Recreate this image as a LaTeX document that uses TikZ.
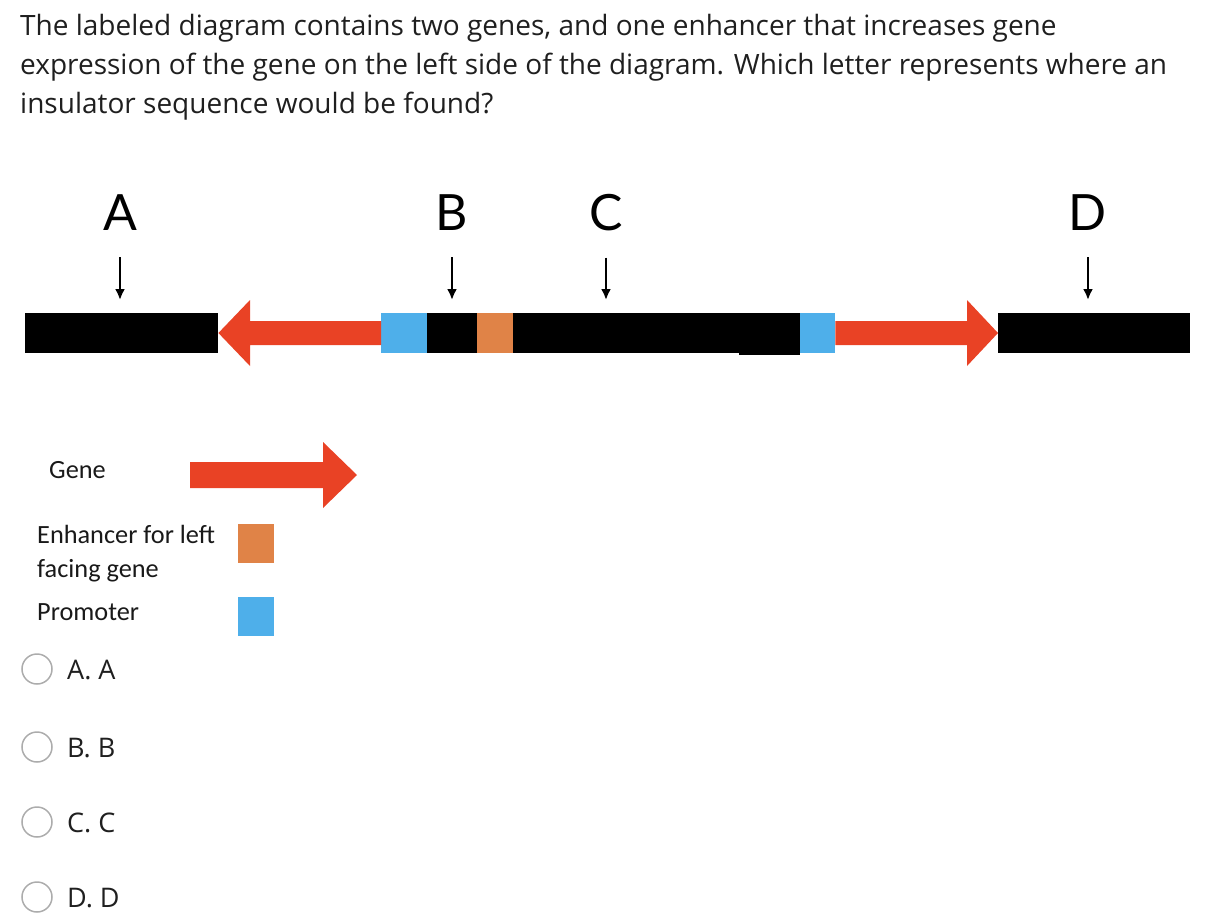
\documentclass[tikz,border=0pt]{standalone}
\usepackage{fontspec}
\setmainfont{Open Sans}
\newfontfamily\legendfont{Carlito}
\newfontfamily\letterfont{Lato}
\usetikzlibrary{arrows.meta, positioning}
\definecolor{genered}{RGB}{233,66,37}
\definecolor{enhorange}{RGB}{224,131,71}
\definecolor{promblue}{RGB}{78,175,234}

\begin{document}
\begin{tikzpicture}[x=1pt, y=-1pt,
    title/.style={anchor=base west, inner sep=0pt, text=black!88,
                  font=\fontsize{28}{39}\selectfont},
    letter/.style={anchor=base, inner sep=0pt,
                   font=\letterfont\fontsize{50}{50}\selectfont},
    pointer/.style={-{Latex[length=11pt,width=10pt]}, line width=2.2pt,
                    shorten <=27pt},
    seg/.style={rectangle, anchor=west, inner sep=0pt, minimum height=40pt},
    key/.style={anchor=base west, inner sep=0pt, text=black!90,
                font=\legendfont\fontsize{26.3}{30}\selectfont},
    swatch/.style={rectangle, inner sep=0pt, minimum width=36pt,
                   minimum height=39pt},
    radio/.style={circle, draw=gray!65, line width=1.5pt, minimum size=30pt,
                  inner sep=0pt},
    choice/.style={anchor=base west, inner sep=0pt, text=black!88,
                   font=\fontsize{27}{30}\selectfont},
]
\useasboundingbox (0,0) rectangle (1224,924);

% question
\node[title] (q1) at (20,35)  {The labeled diagram contains two genes, and one enhancer that increases gene};
\node[title] (q2) at (20,74)  {expression of the gene on the left side of the diagram. Which letter represents where an};
\node[title] (q3) at (20,113) {insulator sequence would be found?};

% DNA strand
\node[seg, fill=black, minimum width=193pt] (barA) at (25,333) {};
\node[seg, fill=promblue, minimum width=46pt] (promL) at (381,333) {};
\node[seg, fill=black, minimum width=50pt] (spacer) at (427,333) {};
\node[seg, fill=enhorange, minimum width=36pt] (enh) at (477,333) {};
\node[seg, fill=black, minimum width=287pt] (barC) at (513,333) {};
\fill[black] (739,313) rectangle (800,355);
\node[seg, fill=promblue, minimum width=35pt] (promR) at (800,333) {};
\node[seg, fill=black, minimum width=192pt] (barD) at (998,333) {};

% genes
\fill[genered] (barA.east) -- (250,300) -- (250,321) -- (promL.west |- 0,321)
   -- (promL.west |- 0,345) -- (250,345) -- (250,366) -- cycle;
\fill[genered] (barD.west) -- (967,300) -- (967,321) -- (promR.east |- 0,321)
   -- (promR.east |- 0,345) -- (967,345) -- (967,366) -- cycle;

% sites
\node[letter] (A) at (120,230) {A};
\node[letter] (B) at (452,230) {B};
\node[letter] (C) at (606,230) {C};
\node[letter] (D) at (1088,230) {D};
\coordinate (Atip) at (120,300);
\coordinate (Btip) at (452,300);
\coordinate (Ctip) at (606,300);
\coordinate (Dtip) at (1088,300);
\draw[pointer] (A.south) -- (Atip);
\draw[pointer] (B.south) -- (Btip);
\draw[pointer] (C.south) -- (Ctip);
\draw[pointer] (D.south) -- (Dtip);

% legend
\node[key] (genetxt) at (49,478) {Gene};
\fill[genered] (190,462) -- (323,462) -- (323,442) -- (357,475)
   -- (323,508) -- (323,488) -- (190,488) -- cycle;
\node[key] (enhtxt) at (37,543) {Enhancer for left};
\node[key] (enhtxt2) at (37,577) {facing gene};
\node[swatch, fill=enhorange] (enhkey) at (256,543.5) {};
\node[key] (promtxt) at (37,620) {Promoter};
\node[swatch, fill=promblue] (promkey) at (256,616.5) {};

% answer choices
\foreach \y/\t [count=\i] in {669/A. A, 747/B. B, 822/C. C, 897/D. D} {
  \node[radio] (opt\i) at (37,\y) {};
  \node[choice] (lab\i) at (67,\y+10) {\t};
}
\end{tikzpicture}
\end{document}
